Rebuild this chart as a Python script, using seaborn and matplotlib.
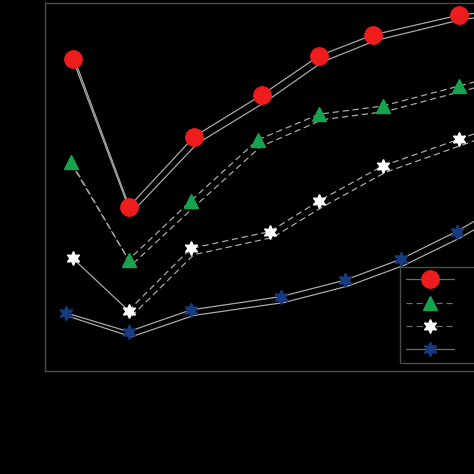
import matplotlib
matplotlib.use("Agg")
import matplotlib.pyplot as plt
from matplotlib.lines import Line2D
import seaborn as sns

# ---- data (arbitrary units, labels not visible) ----
red_x = [0.64, 1.92, 3.43, 4.98, 6.31, 7.53, 9.51, 10.92]
red_y = [84.7, 44.5, 63.7, 75.0, 85.7, 91.3, 96.7, 98.6]
red_fit_x = [0.70, 1.99, 3.50, 5.05, 6.38, 7.60, 9.58, 10.99]
red_fit = [84.0, 43.0, 61.8, 73.0, 84.0, 89.8, 95.5, 97.6]

green_x = [0.59, 1.92, 3.36, 4.89, 6.31, 7.76, 9.51, 10.92]
green_y = [56.7, 30.2, 46.3, 62.8, 69.8, 72.0, 77.4, 81.8]
green_fit_x = [0.62, 1.99, 3.43, 4.96, 6.38, 7.83, 9.58, 10.99]
green_fit = [56.4, 28.8, 44.6, 61.0, 68.3, 70.5, 76.0, 80.4]

white_x = [0.64, 1.92, 3.35, 5.17, 6.31, 7.76, 9.52, 10.92]
white_y = [30.6, 16.4, 33.3, 37.9, 46.3, 55.7, 63.0, 68.8]
white_fit_x = [1.99, 3.42, 5.24, 6.38, 7.83, 9.59, 10.99]
white_fit = [14.9, 31.6, 36.3, 44.6, 54.0, 61.4, 67.3]

blue_x = [0.48, 1.92, 3.35, 5.42, 6.90, 8.18, 9.46, 10.92]
blue_y = [15.8, 10.7, 16.6, 20.2, 24.7, 30.4, 37.9, 47.8]
blue_fit_x = [0.55, 1.99, 3.42, 5.49, 6.97, 8.25, 9.53, 10.99]
blue_fit = [14.8, 9.3, 15.1, 18.6, 23.1, 28.7, 36.1, 46.0]

labels = ["S1", "S2", "S3", "S4"]

# ---- style ----
sns.set_theme(style="dark")
plt.rcParams["font.family"] = ["DejaVu Sans"]

W = 474
fig = plt.figure(figsize=(4.74, 4.74), dpi=100, facecolor="black")
ax = fig.add_axes([45 / W, 103 / W, 435 / W, 368 / W])
ax.set_facecolor("black")
ax.set_xlim(0, 10)
ax.set_ylim(0, 100)
ax.set_xticks([])
ax.set_yticks([])
ax.grid(False)
for s in ax.spines.values():
    s.set_visible(True)
    s.set_color("#4a4a4a")
    s.set_linewidth(1.0)

LC = "#a8a8a8"
LW = 0.9
DASH = (5, 3)


def draw_line(xs, ys, dashed):
    kw = dict(color=LC, linewidth=LW, ax=ax, sort=False, legend=False, zorder=2)
    if dashed:
        sns.lineplot(x=xs, y=ys, linestyle=(0, DASH), **kw)
    else:
        sns.lineplot(x=xs, y=ys, **kw)


# companion lines
draw_line(red_fit_x, red_fit, False)
draw_line(green_fit_x, green_fit, True)
draw_line(white_fit_x, white_fit, True)
draw_line(blue_fit_x, blue_fit, False)

star6 = (6, 1, 0)
specs = [
    (red_x, red_y, "o", "#ee1c1c", 12.5, False),
    (green_x, green_y, "^", "#16a34e", 10.5, True),
    (white_x, white_y, star6, "#ffffff", 10.0, True),
    (blue_x, blue_y, star6, "#173a80", 10.5, False),
]

for i, (xs, ys, m, c, ms, dashed) in enumerate(specs):
    if i == 2:
        # first segment of this series is a plain solid line
        draw_line(xs[:2], ys[:2], False)
        draw_line(xs[1:], ys[1:], True)
    else:
        draw_line(xs, ys, dashed)
    ax.plot(xs, ys, linestyle="none", marker=m, markersize=ms,
            markerfacecolor=c, markeredgecolor=c, zorder=3)

handles = []
for (xs, ys, m, c, ms, dashed) in specs:
    handles.append(Line2D([], [], color="#6a6a6a", linewidth=0.9,
                          linestyle=(0, DASH) if dashed else "-",
                          marker=m, markersize=ms, markerfacecolor=c,
                          markeredgecolor=c))

leg = ax.legend(handles, labels, loc="upper left",
                bbox_to_anchor=(400 / W, 1 - 267.4 / W),
                bbox_transform=fig.transFigure, borderaxespad=0,
                fontsize=10, handlelength=3.5, borderpad=0.4,
                labelspacing=0.68, handletextpad=0.8,
                frameon=True, fancybox=False)
frame = leg.get_frame()
frame.set_facecolor("black")
frame.set_edgecolor("#4a4a4a")
frame.set_linewidth(1.0)
frame.set_alpha(1)
for t in leg.get_texts():
    t.set_color("black")

fig.savefig("out.png", dpi=100, facecolor="black")
